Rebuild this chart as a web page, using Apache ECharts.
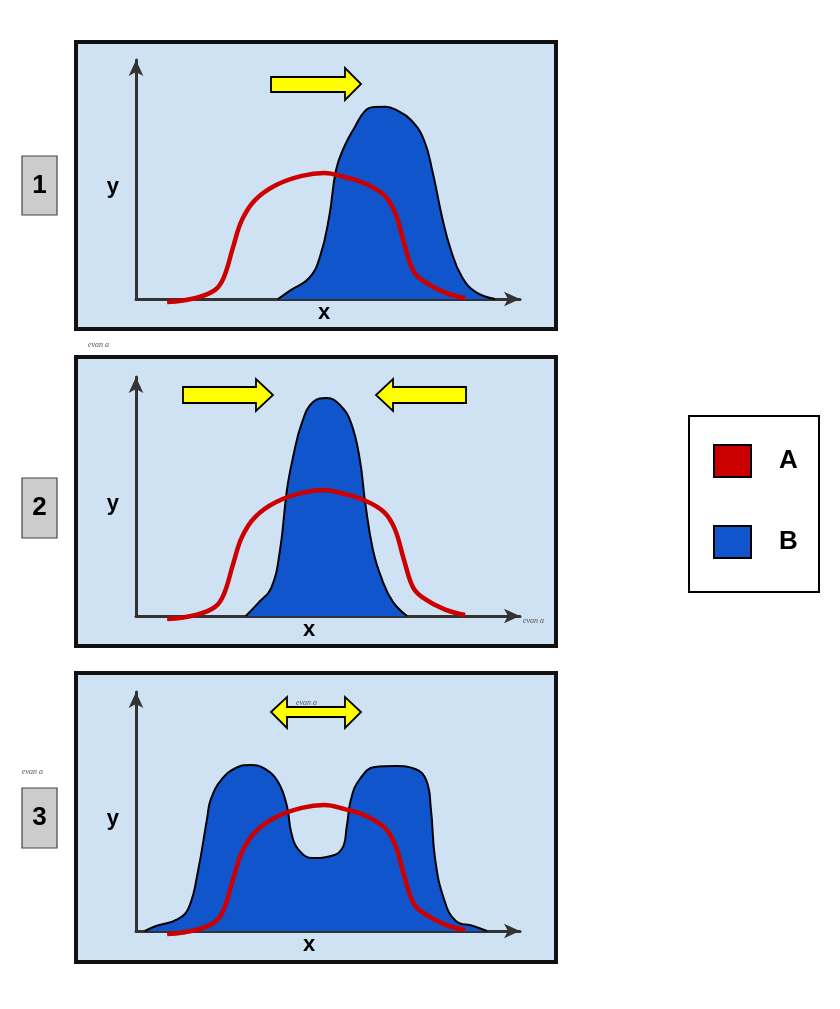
<!DOCTYPE html>
<html><head><meta charset="utf-8">
<script src="https://cdn.jsdelivr.net/npm/echarts@6/dist/echarts.min.js"></script>
<style>html,body{margin:0;padding:0;background:#fff}#c{width:840px;height:1009px}</style>
</head><body><div id="c"></div>
<script>
// Curve A (red): same shape in all three panels [x, y] on 0..100 scales
var curveA = [[8.1,-1.3],[15.6,0.4],[20.6,3.8],[22.9,9.2],[25.3,21.8],[27.6,33.1],[31.0,41.4],[36.5,47.7],[43.2,51.5],[49.0,52.7],[54.4,51.0],[59.4,48.5],[64.6,43.5],[67.4,36.4],[69.8,23.4],[72.1,12.1],[74.5,7.9],[80.2,2.9],[85.7,0.4]];
// Curve B (blue) for each panel
var curveB1 = [[37.0,0],[40.4,3.8],[45.1,8.8],[47.9,17.6],[50.3,34.3],[52.1,54.0],[54.2,63.6],[57.0,72.0],[59.6,78.6],[62.0,80.3],[65.0,80.4],[67.7,79.1],[71.6,74.9],[75.0,66.5],[77.3,52.7],[79.7,34.3],[82.0,20.5],[84.9,9.2],[88.5,2.9],[93.5,0]];
var curveB2 = [[28.6,0],[31.8,5.4],[35.2,11.7],[37.5,27.6],[39.3,52.7],[40.9,66.5],[43.2,80.8],[46.1,89.5],[49.7,91.2],[53.1,88.3],[56.0,80.8],[58.3,65.3],[59.6,48.5],[61.7,27.6],[64.1,15.1],[66.9,5.9],[70.6,0]];
var curveB3 = [[2.3,0],[5.2,2.1],[10.9,5.0],[13.8,10.0],[16.1,24.7],[18.5,46.9],[19.5,55.2],[22.4,63.6],[26.0,68.2],[29.9,69.5],[33.6,67.8],[37.0,62.3],[39.3,52.3],[40.4,41.4],[42.2,34.3],[46.1,30.5],[49.7,31.0],[53.6,34.3],[54.9,43.9],[56.0,55.2],[58.3,63.6],[62.2,68.6],[67.7,69.0],[72.7,67.8],[75.6,63.0],[76.8,51.0],[77.9,30.1],[80.2,13.4],[83.3,4.2],[87.8,2.1],[91.4,0]];
var panelLabels = ['1','2','3'];
var legendNames = ['A','B'];
var axisNameX = 'x', axisNameY = 'y';

var RED = '#cc0000', BLUE = '#1155cc', AX = '#333333', FONT = 'Liberation Sans, Arial, sans-serif';
var gridTops = [60, 377, 692];
var boxes = [[76,42,480,287],[76,357,480,289],[76,673,480,289]];
var numBoxes = [[22,156,35,59],[22,478,35,60],[22,788,35,60]];
var xPad = [[0,8,0,0],[0,38,0,0],[0,38,0,0]];
var bCurves = [curveB1, curveB2, curveB3];

var grids = [], xAxes = [], yAxes = [], series = [], graphics = [];
for (var i = 0; i < 3; i++) {
  grids.push({left:136, top:gridTops[i], width:384, height:239});
  xAxes.push({type:'value', gridIndex:i, min:0, max:100, name:axisNameX, nameLocation:'middle', nameGap:3,
    nameTextStyle:{fontSize:22, fontWeight:'bold', color:'#000', fontFamily:FONT, padding:xPad[i]},
    axisLine:{show:true, onZero:false, lineStyle:{color:AX, width:3}, symbol:['none','arrow'], symbolSize:[11,16]},
    axisTick:{show:false}, axisLabel:{show:false}, splitLine:{show:false}});
  yAxes.push({type:'value', gridIndex:i, min:0, max:100, name:axisNameY, nameLocation:'middle', nameGap:17, nameRotate:0,
    nameTextStyle:{fontSize:22, fontWeight:'bold', color:'#000', fontFamily:FONT, verticalAlign:'top', lineHeight:14},
    axisLine:{show:true, lineStyle:{color:AX, width:3}, symbol:['none','arrow'], symbolSize:[11,16]},
    axisTick:{show:false}, axisLabel:{show:false}, splitLine:{show:false}});
  series.push({name:'B', type:'line', xAxisIndex:i, yAxisIndex:i, data:bCurves[i], smooth:0.45, symbol:'none', clip:false, z:3,
    lineStyle:{color:'#000', width:2}, areaStyle:{color:BLUE, opacity:1}, itemStyle:{color:BLUE}});
  series.push({name:'A', type:'line', xAxisIndex:i, yAxisIndex:i, data:curveA, smooth:0.4, symbol:'none', clip:false, z:4,
    lineStyle:{color:RED, width:4.5, cap:'butt'}, itemStyle:{color:RED}});
  var b = boxes[i];
  graphics.push({type:'rect', z:-10, shape:{x:b[0], y:b[1], width:b[2], height:b[3]}, style:{fill:'#cfe2f3', stroke:'#111', lineWidth:4}});
  var n = numBoxes[i];
  graphics.push({type:'rect', z:1, shape:{x:n[0], y:n[1], width:n[2], height:n[3]}, style:{fill:'#cccccc', stroke:'#444', lineWidth:1.2}});
  graphics.push({type:'text', z:2, x:n[0]+n[2]/2, y:n[1]+n[3]/2, style:{text:panelLabels[i], fill:'#000', font:'bold 26px '+FONT, align:'center', verticalAlign:'middle'}});
}
var arrowStyle = {fill:'#ffff00', stroke:'#000', lineWidth:1.8};
graphics.push({type:'polygon', z:10, shape:{points:[[271,77],[345,77],[345,68],[361,84],[345,100],[345,92],[271,92]]}, style:arrowStyle});
graphics.push({type:'polygon', z:10, shape:{points:[[183,387],[256,387],[256,379],[273,395],[256,411],[256,403],[183,403]]}, style:arrowStyle});
graphics.push({type:'polygon', z:10, shape:{points:[[466,387],[393,387],[393,379],[376,395],[393,411],[393,403],[466,403]]}, style:arrowStyle});
graphics.push({type:'polygon', z:10, shape:{points:[[271,712],[287,697],[287,707],[345,707],[345,697],[361,712],[345,728],[345,717],[287,717],[287,728]]}, style:arrowStyle});
// legend frame
graphics.push({type:'rect', z:1, shape:{x:689, y:416, width:130, height:176}, style:{fill:'#fff', stroke:'#000', lineWidth:2}});
// small watermark texts
var wm = {fill:'#555', font:'italic 8px "Liberation Serif", serif'};
graphics.push({type:'text', z:12, x:88, y:341, style:Object.assign({text:'evan a'}, wm)});
graphics.push({type:'text', z:12, x:523, y:617, style:Object.assign({text:'evan a'}, wm)});
graphics.push({type:'text', z:12, x:22, y:768, style:Object.assign({text:'evan a'}, wm)});
graphics.push({type:'text', z:12, x:296, y:699, style:Object.assign({text:'evan a'}, wm)});

var chart = echarts.init(document.getElementById('c'), null, {renderer:'canvas'});
chart.setOption({
  backgroundColor:'#fff',
  animation:false,
  grid:grids, xAxis:xAxes, yAxis:yAxes, series:series, graphic:graphics,
  legend:{orient:'vertical', left:713, top:444, padding:0, itemWidth:37, itemHeight:32, itemGap:47, z:5,
    data:[{name:legendNames[0], icon:'rect', itemStyle:{color:RED, borderColor:'#000', borderWidth:2}},
          {name:legendNames[1], icon:'rect', itemStyle:{color:BLUE, borderColor:'#000', borderWidth:2}}],
    textStyle:{fontSize:26, fontWeight:'bold', color:'#000', fontFamily:FONT, padding:[0,0,0,23]}}
});
</script></body></html>
